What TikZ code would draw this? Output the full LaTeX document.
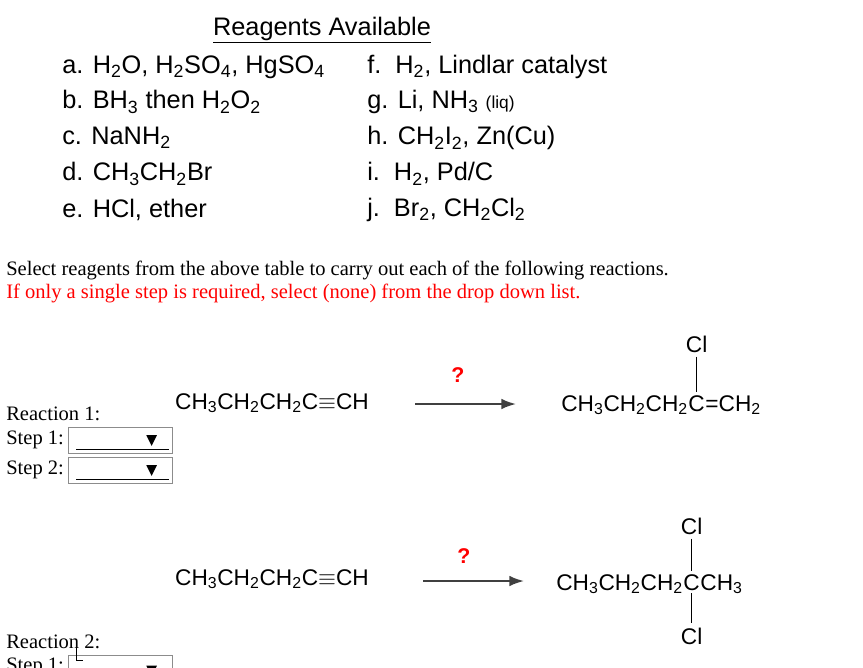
\documentclass[tikz,border=0pt]{standalone}
\usepackage{fontspec}
\usetikzlibrary{arrows.meta}
\setmainfont{Liberation Serif}
\newfontfamily\arial{Liberation Sans}
\newcommand{\chsub}[1]{\textsubscript{#1}}
\begin{document}
\begin{tikzpicture}[x=0.75pt,y=-0.75pt,
  reag/.style={font=\arial\fontsize{19}{21}\selectfont,anchor=west,inner sep=0},
  chem/.style={font=\arial\fontsize{17}{19}\selectfont,inner sep=0},
  page/.style={font=\fontsize{15.4}{17}\selectfont,anchor=west,inner sep=0},
  ddbox/.style={draw=black!45,line width=0.7pt,minimum width=78pt,minimum height=19.5pt,inner sep=0,anchor=north west},
  rxn/.style={-{Latex[length=11pt,width=8pt]},line width=1.5pt,black!75},
  qm/.style={font=\arial\bfseries\fontsize{16}{18}\selectfont,text=red,inner sep=0}]
\useasboundingbox (0,0) rectangle (863,667);
\clip (0,0) rectangle (863,667);
\node[font=\arial\fontsize{19}{21}\selectfont,inner sep=0] (title) at (322,30) {\underline{Reagents Available}};
\node[reag] (a) at (62,67) {a. H\chsub{2}O, H\chsub{2}SO\chsub{4}, HgSO\chsub{4}};
\node[reag] (b) at (62,102) {b. BH\chsub{3} then H\chsub{2}O\chsub{2}};
\node[reag] (c) at (62,138) {c. NaNH\chsub{2}};
\node[reag] (d) at (62,174) {d. CH\chsub{3}CH\chsub{2}Br};
\node[reag] (e) at (62,210) {e. HCl, ether};
\node[reag] (f) at (367,67) {f.\ \ H\chsub{2}, Lindlar catalyst};
\node[reag] (g) at (367,102) {g. Li, NH\chsub{3} {\fontsize{13}{15}\selectfont(liq)}};
\node[reag] (h) at (367,138) {h. CH\chsub{2}I\chsub{2}, Zn(Cu)};
\node[reag] (i) at (367,174) {i.\ \ H\chsub{2}, Pd/C};
\node[reag] (j) at (367,210) {j.\ \ Br\chsub{2}, CH\chsub{2}Cl\chsub{2}};
\node[page] (sel) at (6,270) {Select reagents from the above table to carry out each of the following reactions.};
\node[page,text=red] (note) at (6,293) {If only a single step is required, select (none) from the drop down list.};
% Reaction 1
\node[chem] (r1) at (272,403) {CH\chsub{3}CH\chsub{2}CH\chsub{2}C\ensuremath{\equiv}CH};
\coordinate (a1s) at (415,404); \coordinate (a1e) at (516,404);
\draw[rxn] (a1s) -- (a1e);
\node[qm] (q1) at (458,375) {?};
\node[chem,anchor=base west] (p1a) at (561,411) {CH\chsub{3}CH\chsub{2}CH\chsub{2}};
\node[chem,anchor=base west] (p1c) at (p1a.base east) {C};
\node[chem,anchor=base west] (p1d) at (p1c.base east) {=CH\chsub{2}};
\node[chem] (cl1) at (p1c.north |- 0,344) {Cl};
\draw[line width=0.6pt] ([yshift=-3]cl1.south) -- ([yshift=2]p1c.north);
\node[page] (rx1) at (6,414) {Reaction 1:};
\node[page] (s1) at (6,440) {Step 1:};
\node[ddbox] (b1) at (68,427) {};
\node[page] (s2) at (6,470) {Step 2:};
\node[ddbox] (b2) at (68,457) {};
\foreach \b in {b1,b2}{
  \draw[line width=0.6pt] ([xshift=6,yshift=-7]\b.west) -- ([xshift=76,yshift=-7]\b.west);
  \fill ([xshift=-20,yshift=4]\b.east) -- ([xshift=-12,yshift=4]\b.east) -- ([xshift=-16,yshift=-4]\b.east) -- cycle;
}
% Reaction 2
\node[chem] (r2) at (272,579) {CH\chsub{3}CH\chsub{2}CH\chsub{2}C\ensuremath{\equiv}CH};
\coordinate (a2s) at (423,581); \coordinate (a2e) at (524,581);
\draw[rxn] (a2s) -- (a2e);
\node[qm] (q2) at (464,556) {?};
\node[chem,anchor=base west] (p2a) at (556,590) {CH\chsub{3}CH\chsub{2}CH\chsub{2}};
\node[chem,anchor=base west] (p2c) at (p2a.base east) {C};
\node[chem,anchor=base west] (p2d) at (p2c.base east) {CH\chsub{3}};
\node[chem] (cl2) at (p2c.north |- 0,526) {Cl};
\node[chem] (cl3) at (p2c.north |- 0,636) {Cl};
\draw[line width=0.6pt] ([yshift=-3]cl2.south) -- ([yshift=2]p2c.north);
\draw[line width=0.6pt] ([yshift=-2]p2c.south) -- ([yshift=3]cl3.north);
\node[page] (rx2) at (6,642) {Reaction 2:};
\node[page,anchor=north west] (s3) at (6,658) {Step 1:};
\node[ddbox] (b3) at (68,655) {};
\draw[line width=0.7pt] ([xshift=6,yshift=-4]b3.north west) -- ++(0,-20) ([xshift=6,yshift=-4]b3.north west) -- ++(7,0);
\fill ([xshift=-20,yshift=-8]b3.north east) -- ([xshift=-12,yshift=-8]b3.north east) -- ([xshift=-16,yshift=-16]b3.north east) -- cycle;
\end{tikzpicture}
\end{document}
